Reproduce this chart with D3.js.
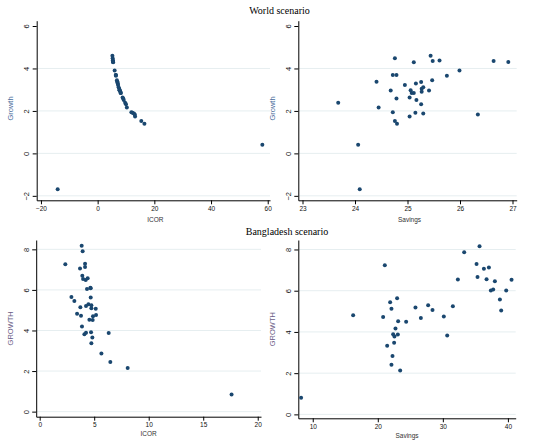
<!DOCTYPE html>
<html>
<head>
<meta charset="utf-8">
<script src="https://cdn.jsdelivr.net/npm/d3@7/dist/d3.min.js"></script>
<style>
    body{margin:0;background:#fff;}
    .tick text{font-family:"Liberation Sans",Arial,sans-serif;fill:#111;}
</style>
</head>
<body>
<div id="chart"></div>
<script>
// world scenario
var worldSavings=[23.68,24.06,24.09,24.41,24.45,24.68,24.72,24.72,24.76,24.79,24.76,24.80,24.79,24.95,25.04,25.04,25.06,25.08,25.12,25.12,25.16,25.17,25.15,25.26,25.26,25.27,25.27,25.30,25.30,25.41,25.44,25.47,25.48,25.61,25.75,25.99,26.34,26.64,26.92];
var worldGrowth=[2.39,0.41,-1.69,3.38,2.16,2.96,1.94,3.69,4.48,3.69,1.53,1.39,2.58,3.22,2.63,1.74,2.97,2.85,2.85,4.29,3.29,2.52,1.91,3.36,2.32,3.04,2.90,3.11,1.88,2.96,4.60,3.44,4.35,4.38,3.66,3.90,1.83,4.35,4.30];
var worldIcor=[9.7,58.1,-14.1,6.9,10.3,7.8,11.9,6.4,5.3,6.4,15.4,16.5,9.0,7.2,8.8,13.2,7.7,8.1,8.2,5.45,7.1,9.2,12.3,7.0,10.0,7.6,8.0,7.4,12.8,7.8,5.2,6.8,5.4,5.35,6.45,6.0,13.1,5.4,5.45];

// bangladesh scenario
var bdSavings=[8.21,16.21,20.82,21.08,21.44,21.90,22.10,22.10,22.26,22.36,22.51,22.56,22.72,22.97,23.08,23.13,23.44,24.36,25.79,26.62,27.74,28.41,30.15,30.67,31.54,32.31,33.28,35.18,35.33,35.64,36.31,36.72,37.08,37.38,37.74,38.0,38.77,38.97,39.74,40.56];
var bdGrowthS=[0.81,4.81,4.72,7.24,3.33,5.44,5.12,2.41,2.83,3.89,3.47,3.78,4.17,5.64,3.88,4.52,2.13,4.49,5.19,4.67,5.30,5.07,4.75,3.83,5.25,6.54,7.87,7.29,6.67,8.16,7.06,6.56,7.12,6.01,6.06,6.46,5.57,5.04,6.01,6.53];
var bdIcor=[2.35,2.91,3.18,3.43,3.70,3.73,3.79,3.85,3.88,3.91,3.94,3.98,4.10,4.16,4.16,4.22,4.25,4.25,4.34,4.40,4.47,4.56,4.65,4.68,4.68,4.71,4.74,4.74,4.74,4.83,4.86,4.89,5.14,5.17,5.66,6.33,6.48,8.07,17.6];
var bdGrowthI=[7.26,5.65,5.45,4.83,7.06,5.14,4.73,8.18,4.20,6.70,7.90,6.54,3.81,7.29,7.13,6.49,3.89,5.21,6.04,6.57,5.29,4.53,6.11,6.08,5.62,3.91,5.24,5.09,3.37,3.65,4.52,4.70,5.07,4.76,2.86,3.88,2.45,2.15,0.84];

var worldIcorTicks=[-20,0,20,40,60];
var worldSavTicks=[23,24,25,26,27];
var worldGrowthTicks=[-2,0,2,4,6];
var bdIcorTicks=[0,5,10,15,20];
var bdSavTicks=[10,20,30,40];
var bdGrowthTicks=[0,2,4,6,8];

var svg=d3.select("#chart")
    .append("svg")
    .attr("width",533)
    .attr("height",442);

svg.append("text")
    .text("World scenario")
    .attr("x",279.5).attr("y",14)
    .attr("text-anchor","middle")
    .style("font-family","'Liberation Serif','Times New Roman',serif")
    .style("font-size","10px");

svg.append("text")
    .text("Bangladesh scenario")
    .attr("x",287).attr("y",234.5)
    .attr("text-anchor","middle")
    .style("font-family","'Liberation Serif','Times New Roman',serif")
    .style("font-size","10px");

function drawPanel(p){
    var x=d3.scaleLinear().domain(p.xDom).range([p.left,p.right]);
    var y=d3.scaleLinear().domain(p.yDom).range([p.bottom,p.top]);
    var g=svg.append("g");

    g.selectAll("line.grid")
        .data(p.grid)
        .enter()
        .append("line")
        .attr("class","grid")
        .attr("x1",p.left).attr("x2",p.right)
        .attr("y1",function(d){return y(d);})
        .attr("y2",function(d){return y(d);})
        .attr("stroke","#e6eef0")
        .attr("stroke-width",1);

    var xa=g.append("g")
        .attr("transform","translate(0,"+p.bottom+")")
        .call(d3.axisBottom(x).tickValues(p.xTicks).tickSize(4).tickSizeOuter(0).tickPadding(2).tickFormat(d3.format("d")));
    xa.selectAll("text").style("font-size","6.5px");

    var ya=g.append("g")
        .attr("transform","translate("+p.left+",0)")
        .call(d3.axisLeft(y).tickValues(p.yTicks).tickSize(4).tickSizeOuter(0).tickFormat(d3.format("d")));
    ya.selectAll("text")
        .attr("x",0).attr("dy",null)
        .attr("text-anchor","middle")
        .attr("dominant-baseline","central")
        .attr("transform","translate(-10,0) rotate(-90)")
        .style("font-size","7.5px");
    g.selectAll(".domain,.tick line").attr("stroke","#000").attr("stroke-width",1);

    g.append("text")
        .text(p.xTitle)
        .attr("x",(p.left+p.right)/2+p.xTitleShift)
        .attr("y",p.bottom+p.xTitleOff)
        .attr("text-anchor","middle")
        .style("font-family","'Liberation Sans',Arial,sans-serif")
        .style("font-size","6.5px")
        .attr("fill","#333");

    g.append("text")
        .text(p.yTitle)
        .attr("text-anchor","middle")
        .attr("dominant-baseline","central")
        .attr("transform","translate("+(p.left-26)+","+((p.top+p.bottom)/2+p.yTitleShift)+") rotate(-90)")
        .style("font-family","'Liberation Sans',Arial,sans-serif")
        .style("font-size","7.5px")
        .attr("fill",p.yTitleColor);

    g.selectAll("circle")
        .data(p.xs)
        .enter()
        .append("circle")
        .attr("cx",function(d){return x(d);})
        .attr("cy",function(d,i){return y(p.ys[i]);})
        .attr("r",2)
        .attr("fill","#1a476f");
}

drawPanel({xs:worldIcor,ys:worldGrowth,left:36.7,right:270,top:20.7,bottom:200.3,
    xDom:[-21.5,60.8],yDom:[-2.21,6.25],xTicks:worldIcorTicks,yTicks:worldGrowthTicks,grid:[-2,0,2,4],
    xTitle:"ICOR",xTitleShift:2,xTitleOff:21.5,yTitle:"Growth",yTitleShift:-2,yTitleColor:"#4a6c9b"});

drawPanel({xs:worldSavings,ys:worldGrowth,left:298.3,right:516.7,top:20.7,bottom:200.3,
    xDom:[22.92,27.08],yDom:[-2.21,6.25],xTicks:worldSavTicks,yTicks:worldGrowthTicks,grid:[-2,0,2,4],
    xTitle:"Savings",xTitleShift:2,xTitleOff:21.5,yTitle:"Growth",yTitleShift:-2,yTitleColor:"#4a6c9b"});

drawPanel({xs:bdIcor,ys:bdGrowthI,left:36.2,right:261,top:240,bottom:416.7,
    xDom:[-0.32,20.3],yDom:[-0.25,8.46],xTicks:bdIcorTicks,yTicks:bdGrowthTicks,grid:[0,2,4,6,8],
    xTitle:"ICOR",xTitleShift:0,xTitleOff:19,yTitle:"GROWTH",yTitleShift:0,yTitleColor:"#6a5d86"});

drawPanel({xs:bdSavings,ys:bdGrowthS,left:298.3,right:515.7,top:240,bottom:418.3,
    xDom:[7.78,41.2],yDom:[-0.19,8.46],xTicks:bdSavTicks,yTicks:bdGrowthTicks,grid:[0,2,4,6,8],
    xTitle:"Savings",xTitleShift:0,xTitleOff:19.5,yTitle:"GROWTH",yTitleShift:0,yTitleColor:"#6a5d86"});
</script>
</body>
</html>
